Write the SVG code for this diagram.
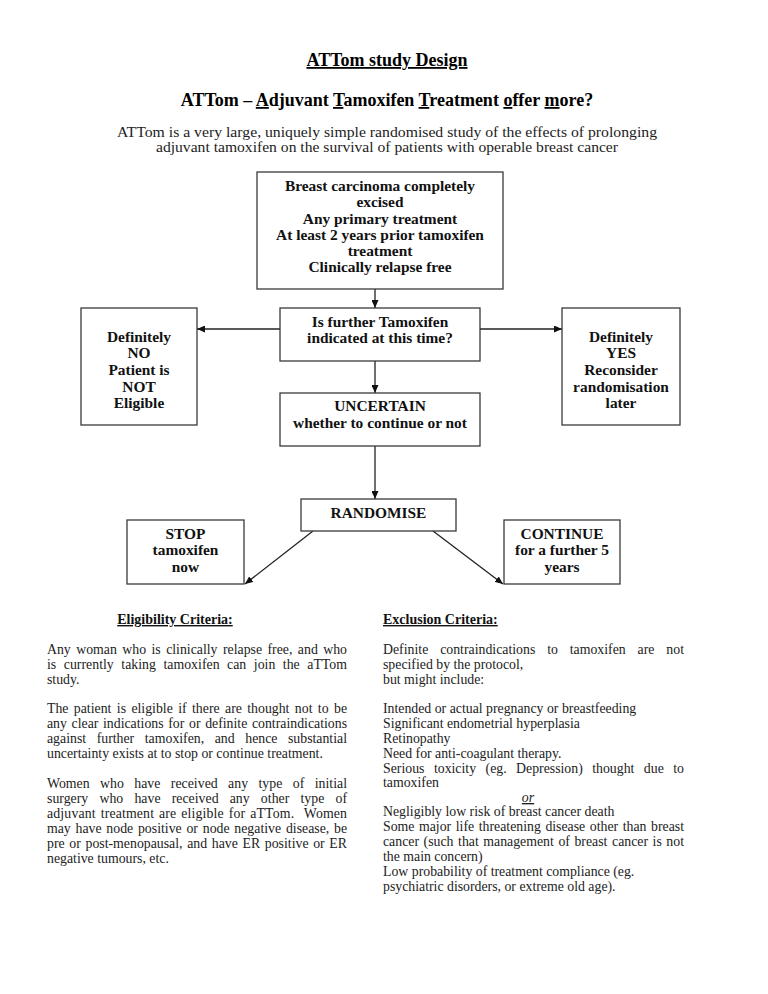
<svg xmlns="http://www.w3.org/2000/svg" width="768" height="994" viewBox="0 0 768 994">
<style>
  text { font-family: "Liberation Serif", "Times New Roman", serif; }
  .h1 { font-size: 18px; font-weight: bold; fill: #000; }
  .intro { font-size: 14.6px; fill: #222; }
  .box { fill: #fff; stroke: #3a3a3a; stroke-width: 1.3; }
  .bt { font-size: 15.4px; font-weight: bold; fill: #111; text-anchor: middle; }
  .hd { font-size: 14px; font-weight: bold; fill: #111; text-decoration: underline; }
  .col { font-size: 13.8px; fill: #222; }
  .conn { stroke: #222; stroke-width: 1.3; fill: none; marker-end: url(#arr); }
</style>
<defs>
  <marker id="arr" markerUnits="userSpaceOnUse" markerWidth="9" markerHeight="7" refX="8" refY="3.5" orient="auto">
    <path d="M0,0 L8,3.5 L0,7 z" fill="#111"/>
  </marker>
</defs>
<rect width="768" height="994" fill="#fff"/>

<g id="header">
  <text class="h1" x="387" y="66" text-anchor="middle" text-decoration="underline">ATTom study Design</text>
  <text class="h1" x="387" y="106" text-anchor="middle">ATTom – <tspan text-decoration="underline">A</tspan>djuvant <tspan text-decoration="underline">T</tspan>amoxifen <tspan text-decoration="underline">T</tspan>reatment <tspan text-decoration="underline">o</tspan>ffer <tspan text-decoration="underline">m</tspan>ore?</text>
  <text class="intro" x="387" y="137" text-anchor="middle" textLength="540" lengthAdjust="spacingAndGlyphs">ATTom is a very large, uniquely simple randomised study of the effects of prolonging</text>
  <text class="intro" x="387" y="152" text-anchor="middle" textLength="462" lengthAdjust="spacingAndGlyphs">adjuvant tamoxifen on the survival of patients with operable breast cancer</text>
</g>

<g id="connectors">
  <line class="conn" x1="375" y1="289" x2="375" y2="308"/>
  <line class="conn" x1="280" y1="329" x2="197" y2="329"/>
  <line class="conn" x1="480" y1="329" x2="562" y2="329"/>
  <line class="conn" x1="375" y1="361" x2="375" y2="393"/>
  <line class="conn" x1="375" y1="446" x2="375" y2="499"/>
  <line class="conn" x1="313" y1="531" x2="245" y2="584"/>
  <line class="conn" x1="433" y1="531" x2="503" y2="584"/>
</g>

<g id="node-start">
  <rect class="box" x="257" y="172" width="246" height="117"/>
  <text class="bt" x="380" y="191">Breast carcinoma completely</text>
  <text class="bt" x="380" y="207">excised</text>
  <text class="bt" x="380" y="224">Any primary treatment</text>
  <text class="bt" x="380" y="240">At least 2 years prior tamoxifen</text>
  <text class="bt" x="380" y="256">treatment</text>
  <text class="bt" x="380" y="272">Clinically relapse free</text>
</g>

<g id="node-question">
  <rect class="box" x="280" y="308" width="200" height="53"/>
  <text class="bt" x="380" y="327">Is further Tamoxifen</text>
  <text class="bt" x="380" y="343">indicated at this time?</text>
</g>

<g id="node-no">
  <rect class="box" x="81" y="308" width="116" height="117"/>
  <text class="bt" x="139" y="342">Definitely</text>
  <text class="bt" x="139" y="358">NO</text>
  <text class="bt" x="139" y="375">Patient is</text>
  <text class="bt" x="139" y="392">NOT</text>
  <text class="bt" x="139" y="408">Eligible</text>
</g>

<g id="node-yes">
  <rect class="box" x="562" y="308" width="118" height="117"/>
  <text class="bt" x="621" y="342">Definitely</text>
  <text class="bt" x="621" y="358">YES</text>
  <text class="bt" x="621" y="375">Reconsider</text>
  <text class="bt" x="621" y="392">randomisation</text>
  <text class="bt" x="621" y="408">later</text>
</g>

<g id="node-uncertain">
  <rect class="box" x="280" y="393" width="200" height="53"/>
  <text class="bt" x="380" y="411">UNCERTAIN</text>
  <text class="bt" x="380" y="428">whether to continue or not</text>
</g>

<g id="node-randomise">
  <rect class="box" x="301" y="499" width="155" height="32"/>
  <text class="bt" x="378.5" y="518">RANDOMISE</text>
</g>

<g id="node-stop">
  <rect class="box" x="127" y="520" width="117" height="64"/>
  <text class="bt" x="185.5" y="539">STOP</text>
  <text class="bt" x="185.5" y="555">tamoxifen</text>
  <text class="bt" x="185.5" y="572">now</text>
</g>

<g id="node-continue">
  <rect class="box" x="504" y="520" width="116" height="64"/>
  <text class="bt" x="562" y="539">CONTINUE</text>
  <text class="bt" x="562" y="555">for a further 5</text>
  <text class="bt" x="562" y="572">years</text>
</g>

<g id="eligibility">
  <text class="hd" x="175" y="624" text-anchor="middle">Eligibility Criteria:</text>
  <text class="col" x="47" y="654" word-spacing="2.0" textLength="300" lengthAdjust="spacing">Any woman who is clinically relapse free, and who</text>
  <text class="col" x="47" y="669" word-spacing="4.0" textLength="300" lengthAdjust="spacing">is currently taking tamoxifen can join the aTTom</text>
  <text class="col" x="47" y="684">study.</text>
  <text class="col" x="47" y="713" word-spacing="1.9" textLength="300" lengthAdjust="spacing">The patient is eligible if there are thought not to be</text>
  <text class="col" x="47" y="728" word-spacing="1.2" textLength="300" lengthAdjust="spacing">any clear indications for or definite contraindications</text>
  <text class="col" x="47" y="743" word-spacing="7.1" textLength="300" lengthAdjust="spacing">against further tamoxifen, and hence substantial</text>
  <text class="col" x="47" y="758">uncertainty exists at to stop or continue treatment.</text>
  <text class="col" x="47" y="788" word-spacing="6.9" textLength="300" lengthAdjust="spacing">Women who have received any type of initial</text>
  <text class="col" x="47" y="803" word-spacing="7.7" textLength="300" lengthAdjust="spacing">surgery who have received any other type of</text>
  <text class="col" x="47" y="818" word-spacing="1.3" textLength="300" lengthAdjust="spacing" xml:space="preserve">adjuvant treatment are eligible for aTTom.  Women</text>
  <text class="col" x="47" y="833" word-spacing="1.3" textLength="300" lengthAdjust="spacing">may have node positive or node negative disease, be</text>
  <text class="col" x="47" y="848" word-spacing="1.2" textLength="300" lengthAdjust="spacing">pre or post-menopausal, and have ER positive or ER</text>
  <text class="col" x="47" y="863">negative tumours, etc.</text>
</g>

<g id="exclusion">
  <text class="hd" x="383" y="624">Exclusion Criteria:</text>
  <text class="col" x="383" y="654" word-spacing="8.4" textLength="301" lengthAdjust="spacing">Definite contraindications to tamoxifen are not</text>
  <text class="col" x="383" y="669">specified by the protocol,</text>
  <text class="col" x="383" y="684">but might include:</text>
  <text class="col" x="383" y="713">Intended or actual pregnancy or breastfeeding</text>
  <text class="col" x="383" y="728">Significant endometrial hyperplasia</text>
  <text class="col" x="383" y="743">Retinopathy</text>
  <text class="col" x="383" y="758">Need for anti-coagulant therapy.</text>
  <text class="col" x="383" y="773" word-spacing="6.0" textLength="301" lengthAdjust="spacing">Serious toxicity (eg. Depression) thought due to</text>
  <text class="col" x="383" y="787">tamoxifen</text>
  <text class="col" x="528" y="802" text-anchor="middle" font-style="italic" text-decoration="underline">or</text>
  <text class="col" x="383" y="816">Negligibly low risk of breast cancer death</text>
  <text class="col" x="383" y="831" word-spacing="1.1" textLength="301" lengthAdjust="spacing">Some major life threatening disease other than breast</text>
  <text class="col" x="383" y="846" word-spacing="1.1" textLength="301" lengthAdjust="spacing">cancer (such that management of breast cancer is not</text>
  <text class="col" x="383" y="861">the main concern)</text>
  <text class="col" x="383" y="876">Low probability of treatment compliance (eg.</text>
  <text class="col" x="383" y="891">psychiatric disorders, or extreme old age).</text>
</g>
</svg>
